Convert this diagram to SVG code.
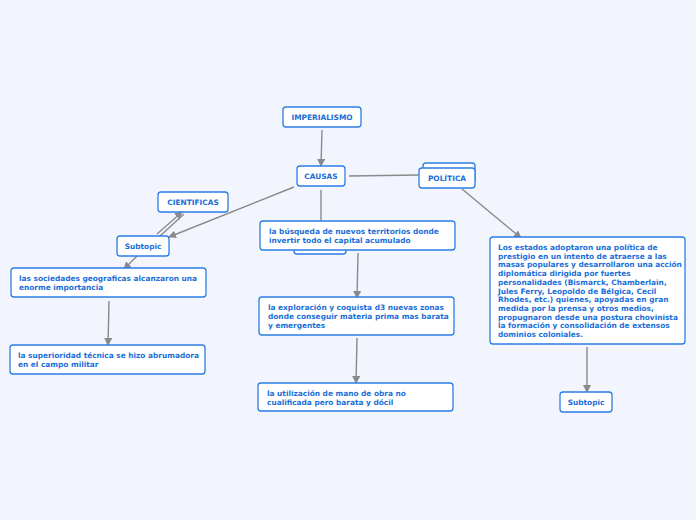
<svg xmlns="http://www.w3.org/2000/svg" width="696" height="520" viewBox="0 0 696 520">
<style>
.n{fill:#fff;stroke:#2b7de6;stroke-width:1.3}
.t{font-family:"DejaVu Sans",Verdana,sans-serif;font-weight:bold;font-size:7.4px;fill:#1a6ed8}
.c line{stroke:#8a8a8a;stroke-width:1.4}
</style>
<defs><marker id="a" markerWidth="8" markerHeight="8" refX="7" refY="4" orient="auto" markerUnits="userSpaceOnUse"><path d="M0,0L8,4L0,8z" fill="#8a8a8a"/></marker></defs>
<rect width="696" height="520" fill="#f2f5fe"/>
<g class="c">
<line x1="322" y1="130" x2="321" y2="166" marker-end="url(#a)"/>
<line x1="349" y1="176" x2="419" y2="175"/>
<line x1="294" y1="187" x2="169" y2="237" marker-end="url(#a)"/>
<line x1="321" y1="190" x2="321" y2="222"/>
<line x1="157" y1="234" x2="182" y2="212" marker-end="url(#a)"/>
<line x1="160" y1="236" x2="184" y2="214"/>
<line x1="137" y1="256" x2="124" y2="269" marker-end="url(#a)"/>
<line x1="109" y1="301" x2="108" y2="345" marker-end="url(#a)"/>
<line x1="358" y1="253" x2="357" y2="298" marker-end="url(#a)"/>
<line x1="357" y1="338" x2="356" y2="383" marker-end="url(#a)"/>
<line x1="462" y1="189" x2="521" y2="238" marker-end="url(#a)"/>
<line x1="587" y1="347" x2="587" y2="392" marker-end="url(#a)"/>
</g>
<g id="imperialismo"><rect class="n" x="283" y="107" width="78" height="20" rx="3"/><text class="t" x="322" y="120" text-anchor="middle">IMPERIALISMO</text></g>
<g id="causas"><rect class="n" x="297" y="166" width="48" height="20" rx="3"/><text class="t" x="321" y="179" text-anchor="middle">CAUSAS</text></g>
<g id="politica"><rect class="n" x="423" y="163" width="52" height="20" rx="3"/><rect class="n" x="419" y="168" width="56" height="20" rx="3"/><text class="t" x="447" y="181" text-anchor="middle">POLÍTICA</text></g>
<g id="cientificas"><rect class="n" x="158" y="192" width="70" height="20" rx="3"/><text class="t" x="193" y="205" text-anchor="middle">CIENTIFICAS</text></g>
<g id="subtopic1"><rect class="n" x="117" y="236" width="52" height="20" rx="3"/><text class="t" x="143" y="249" text-anchor="middle">Subtopic</text></g>
<g id="hidden"><rect class="n" x="294" y="240" width="52" height="14" rx="3"/></g>
<g id="busqueda"><rect class="n" x="260" y="221" width="195" height="29" rx="3"/><text class="t" x="269" y="234">la búsqueda de nuevos territorios donde</text><text class="t" x="269" y="243">invertir todo el capital acumulado</text></g>
<g id="sociedades"><rect class="n" x="11" y="268" width="195" height="29" rx="3"/><text class="t" x="19" y="281">las sociedades geograficas alcanzaron una</text><text class="t" x="19" y="290">enorme importancia</text></g>
<g id="superioridad"><rect class="n" x="10" y="345" width="195" height="29" rx="3"/><text class="t" x="18" y="358">la superioridad técnica se hizo abrumadora</text><text class="t" x="18" y="367">en el campo militar</text></g>
<g id="exploracion"><rect class="n" x="259" y="297" width="195" height="38" rx="3"/><text class="t" x="268" y="310">la exploración y coquista d3 nuevas zonas</text><text class="t" x="268" y="319">donde conseguir materia prima mas barata</text><text class="t" x="268" y="328">y emergentes</text></g>
<g id="utilizacion"><rect class="n" x="258" y="383" width="195" height="28" rx="3"/><text class="t" x="267" y="396">la utilización de mano de obra no</text><text class="t" x="267" y="405">cualificada pero barata y dócil</text></g>
<g id="estados"><rect class="n" x="490" y="237" width="195" height="107" rx="3"/>
<text class="t" x="498" y="250">Los estados adoptaron una política de</text>
<text class="t" x="498" y="258.7">prestigio en un intento de atraerse a las</text>
<text class="t" x="498" y="267.4">masas populares y desarrollaron una acción</text>
<text class="t" x="498" y="276.1">diplomática dirigida por fuertes</text>
<text class="t" x="498" y="284.8">personalidades (Bismarck, Chamberlain,</text>
<text class="t" x="498" y="293.5">Jules Ferry, Leopoldo de Bélgica, Cecil</text>
<text class="t" x="498" y="302.2">Rhodes, etc.) quienes, apoyadas en gran</text>
<text class="t" x="498" y="310.9">medida por la prensa y otros medios,</text>
<text class="t" x="498" y="319.6">propugnaron desde una postura chovinista</text>
<text class="t" x="498" y="328.3">la formación y consolidación de extensos</text>
<text class="t" x="498" y="337">dominios coloniales.</text></g>
<g id="subtopic2"><rect class="n" x="560" y="392" width="52" height="20" rx="3"/><text class="t" x="586" y="405" text-anchor="middle">Subtopic</text></g>
</svg>
